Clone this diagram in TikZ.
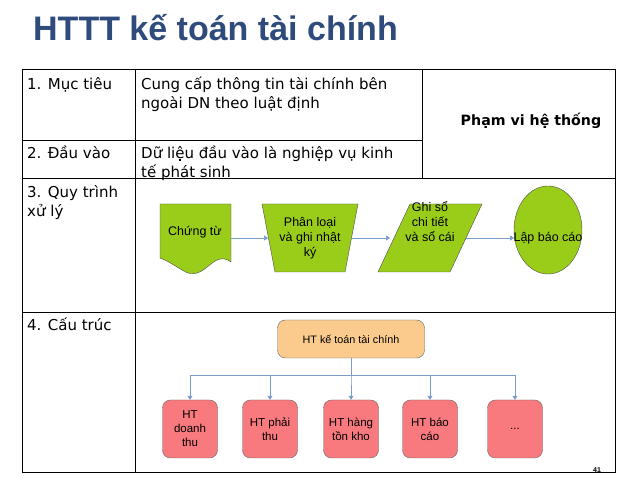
\documentclass[tikz,border=0pt]{standalone}
\usepackage{fontspec}
\setmainfont{DejaVu Sans}
\newfontfamily\titlefont{Liberation Sans}
\newfontfamily\asans{Liberation Sans}
\usetikzlibrary{shapes.geometric,arrows.meta}
\definecolor{titleblue}{HTML}{2F4B7C}
\definecolor{flowgreen}{HTML}{9ACD1A}
\definecolor{lineblue}{HTML}{7A9CC8}
\definecolor{orangebox}{HTML}{FBCB8E}
\definecolor{redbox}{HTML}{F87A7E}
\tikzset{
  cell/.style={anchor=north west,font=\fontsize{15}{19}\selectfont,align=left,inner sep=0pt},
  conn/.style={draw=lineblue,-{Triangle[length=4pt,width=5pt]},line width=0.6pt},
  fl/.style={fill=flowgreen,draw=black!70,line width=0.4pt},
  child/.style={draw=black!60,fill=redbox,rounded corners=8pt,minimum width=55pt,minimum height=58pt,font=\asans\fontsize{11.5}{14}\selectfont,align=center,inner sep=1pt},
  ftext/.style={font=\asans\fontsize{12.5}{15}\selectfont,align=center,inner sep=0pt}
}
\begin{document}
\begin{tikzpicture}[x=1pt,y=-1pt]
\useasboundingbox (0,0) rectangle (638,478);
\node[anchor=west,text=titleblue,font=\titlefont\bfseries\fontsize{34}{38}\selectfont,inner sep=0pt] (title) at (33,28) {HTTT kế toán tài chính};
% table
\draw[line width=1pt] (22,70) rectangle (615,473);
\draw[line width=0.6pt] (135,70) -- (135,473);
\draw[line width=0.6pt] (422,70) -- (422,178);
\draw[line width=0.6pt] (22,140) -- (422,140);
\draw[line width=0.6pt] (22,178) -- (615,178);
\draw[line width=0.6pt] (22,312) -- (615,312);
\node[cell] (r1) at (27,77) {1. Mục tiêu};
\node[cell] (r1b) at (141,77) {Cung cấp thông tin tài chính bên\\ngoài DN theo luật định};
\node[cell] (r2) at (27,146) {2. Đầu vào};
\node[cell] (r2b) at (141,146) {Dữ liệu đầu vào là nghiệp vụ kinh\\tế phát sinh};
\node[cell] (r3) at (27,185) {3. Quy trình\\xử lý};
\node[cell] (r4) at (27,318) {4. Cấu trúc};
\node[font=\bfseries\fontsize{14.2}{17}\selectfont] (scope) at (531,121) {Phạm vi hệ thống};
% flow
\path[fl] (160,204) -- (231,204) -- (231,262) .. controls (212,248) and (205,285) .. (182,270) .. controls (172,264) and (166,260) .. (160,258) -- cycle;
\node[ftext] (ct) at (195,232) {Chứng từ};
\path[fl] (262,204) -- (358,204) -- (345,272) -- (275,272) -- cycle;
\node[ftext] (pl) at (310,238) {Phân loại\\và ghi nhật\\ký};
\path[fl] (410,204) -- (482,204) -- (450,272) -- (378,272) -- cycle;
\node[ftext] (gs) at (430,222) {Ghi sổ\\chi tiết\\và sổ cái};
\node[ellipse,fl,minimum width=68pt,minimum height=88pt,inner sep=0pt] (lb) at (548,230) {};
\node[ftext] (lbt) at (548,238) {Lập báo cáo};
\coordinate (a1) at (231,238); \coordinate (a1e) at (268,238);
\coordinate (a2) at (352,238); \coordinate (a2e) at (390,238);
\coordinate (a3) at (466,238); \coordinate (a3e) at (514,238);
\draw[conn] (a1) -- (a1e);
\draw[conn] (a2) -- (a2e);
\draw[conn] (a3) -- (a3e);
% structure
\node[draw=black!60,fill=orangebox,rounded corners=8pt,minimum width=147pt,minimum height=38pt,font=\asans\fontsize{10.8}{13}\selectfont] (root) at (351,339) {HT kế toán tài chính};
\node[child] (c1) at (190,429) {HT\\doanh\\thu};
\node[child] (c2) at (270,429) {HT phải\\thu};
\node[child] (c3) at (351,429) {HT hàng\\tồn kho};
\node[child] (c4) at (430,429) {HT báo\\cáo};
\node[child] (c5) at (515,429) {...};
\foreach \c in {c1,c2,c3,c4,c5}{
  \draw[conn] (root.south) |- (\c.north |- 0,375) -- (\c.north);
}
\node[font=\asans\bfseries\fontsize{7}{8}\selectfont] (pg) at (597,470) {41};
\end{tikzpicture}
\end{document}
